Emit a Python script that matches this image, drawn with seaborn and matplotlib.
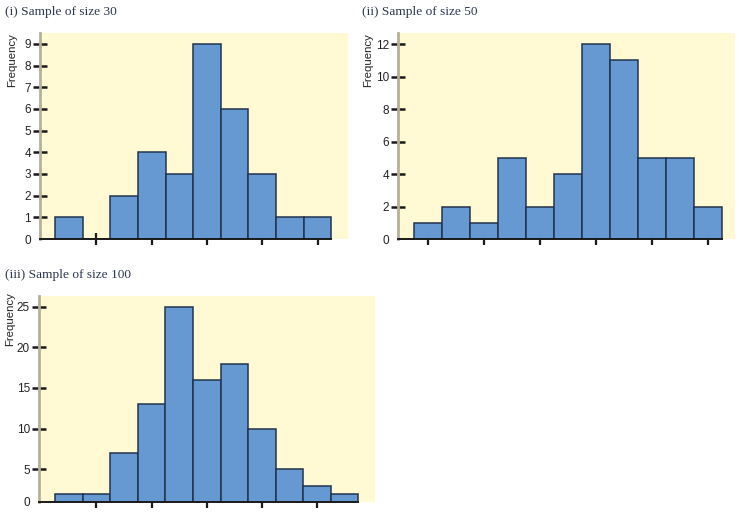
import matplotlib
matplotlib.use('Agg')
import matplotlib.pyplot as plt
import seaborn as sns
import numpy as np
import pandas as pd

# Bar heights (bins have no labels, so bins are just indexed)
counts_30 = [1, 0, 2, 4, 3, 9, 6, 3, 1, 1]
counts_50 = [1, 2, 1, 5, 2, 4, 12, 11, 5, 5, 2]
counts_100 = [2, 2, 7, 13, 25, 16, 18, 10, 5, 3, 2]

titles = ['(i) Sample of size 30', '(ii) Sample of size 50', '(iii) Sample of size 100']
yticks_30 = [0, 1, 2, 3, 4, 5, 6, 7, 8, 9]
yticks_50 = [0, 2, 4, 6, 8, 10, 12]
yticks_100 = [5, 10, 15, 20, 25]

sns.set_theme(style='white')
plt.rcParams['font.family'] = ['Liberation Sans', 'DejaVu Sans']

bar_color = '#6699d2'
edge_color = '#22344f'
bg_color = '#fffad4'
title_color = '#2b3550'

fig = plt.figure(figsize=(7.39, 5.21), dpi=100)
W, H = 739, 521


def px_axes(left, top, right, bottom):
    return fig.add_axes([left / W, 1 - bottom / H, (right - left) / W, (bottom - top) / H])


def draw_hist(ax, counts, xlim, ylim, yticks, ylabels, xtick_start):
    n = len(counts)
    edges = list(range(n + 1))
    df = pd.DataFrame({'bin': [i + 0.5 for i in range(n)], 'count': counts})
    sns.histplot(data=df, x='bin', weights='count', bins=edges, ax=ax, color=bar_color,
                 edgecolor=edge_color, linewidth=1.1, alpha=1)
    ax.set_facecolor(bg_color)
    ax.set_xlim(*xlim)
    ax.set_ylim(*ylim)
    ax.set_xticks(df['bin'].values[xtick_start::2])
    ax.set_xticklabels([])
    ax.set_yticks(yticks)
    ax.set_yticklabels(ylabels)
    ax.tick_params(axis='y', direction='inout', length=10, width=1.8, color='#1a1a1a',
                   labelsize=8.5, pad=1.5, left=True, labelcolor='#222222')
    ax.tick_params(axis='x', direction='inout', length=8, width=1.6, color='#1a1a1a',
                   bottom=True)
    # no tick mark at the baseline, only its label
    ax.yaxis.get_major_ticks()[0].tick1line.set_markersize(0)
    for s in ['top', 'right']:
        ax.spines[s].set_visible(False)
    ax.spines['left'].set_color('#b5b09a')
    ax.spines['left'].set_linewidth(2)
    ax.spines['left'].set_zorder(1.5)
    ax.spines['bottom'].set_color('#1a1a1a')
    ax.spines['bottom'].set_linewidth(1.4)
    ax.spines['bottom'].set_bounds(xlim[0], n)
    ax.set_xlabel('')
    ax.set_ylabel('Frequency', fontsize=8.2, color='#222222', loc='top')
    ax.yaxis.set_label_coords(-0.075, 1.0)


ax1 = px_axes(40, 33, 348, 239)
draw_hist(ax1, counts_30, (-0.54, 10.6), (0, 9.5), yticks_30,
          [str(v) for v in yticks_30], 1)

ax2 = px_axes(398, 33, 735, 239)
draw_hist(ax2, counts_50, (-0.57, 11.48), (0, 12.68), yticks_50,
          [str(v) for v in yticks_50], 0)

# panel (iii): the baseline labelled 0 sits about one unit above true zero
base_100 = 1.04
ax3 = px_axes(39, 296, 375, 501.5)
draw_hist(ax3, counts_100, (-0.58, 11.6), (base_100, 26.3), [base_100] + yticks_100,
          ['0'] + [str(v) for v in yticks_100], 1)
ax3.yaxis.set_label_coords(-0.072, 1.02)

title_pos = [(5, 15), (362, 15), (5, 278)]
for t, (x, y) in zip(titles, title_pos):
    fig.text(x / W, 1 - y / H, t, family=['Liberation Serif', 'DejaVu Serif'],
             fontsize=9.6, color=title_color, va='baseline', ha='left')

fig.savefig('out.png', dpi=100)
